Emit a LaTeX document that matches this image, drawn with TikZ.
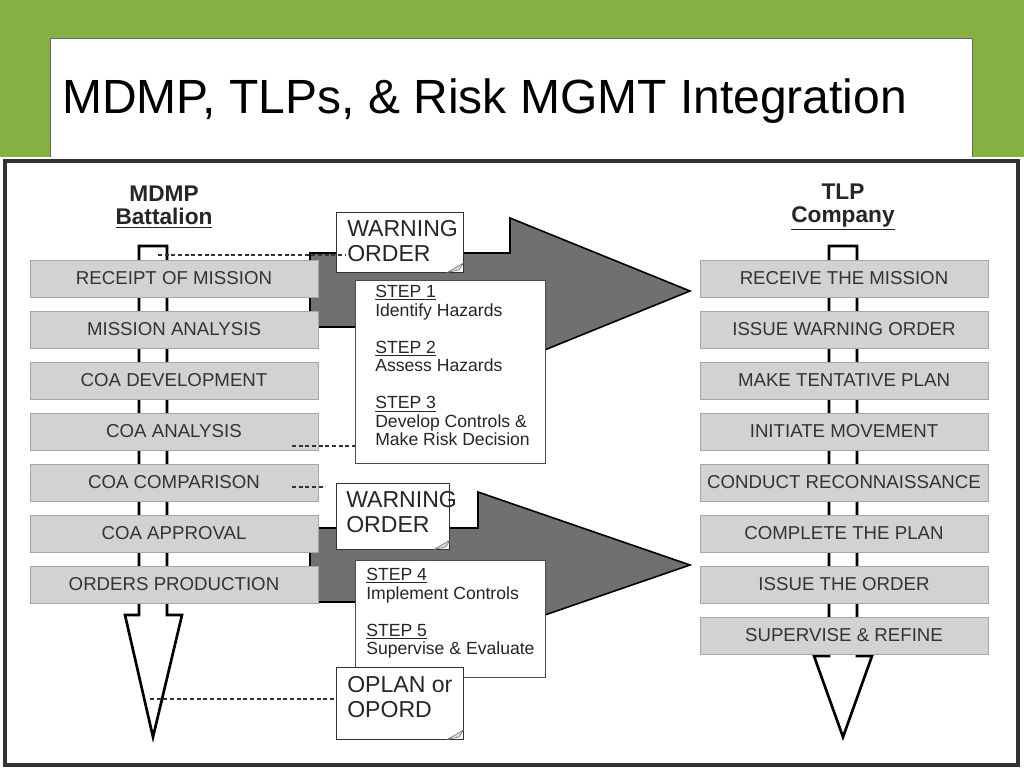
\documentclass[tikz,border=0pt]{standalone}
\usepackage{fontspec}
\setmainfont{Liberation Sans}
\definecolor{bggreen}{RGB}{134,176,66}
\begin{document}
\begin{tikzpicture}[x=0.75pt,y=-0.75pt,
  phase/.style={draw=gray!70,fill=gray!35,minimum width=216pt,minimum height=27.5pt,inner sep=0pt,font=\fontsize{14}{16}\selectfont,text=black!80},
  note/.style={draw=black!80,fill=white,inner sep=0pt,anchor=north west},
  notetext/.style={anchor=north west,align=left,font=\fontsize{17.3}{19}\selectfont,inner sep=0pt,text=black!85},
  stepbox/.style={draw=black!70,fill=white,inner sep=0pt,anchor=north west},
  steptext/.style={anchor=north west,align=left,font=\fontsize{13.2}{13.9}\selectfont,text=black!85,inner sep=0pt},
  head/.style={font=\bfseries\fontsize{17}{17.3}\selectfont,align=center,text=black!85},
  conn/.style={densely dashed,line width=1.2pt,black!80},
  big/.style={draw=black,line width=1.2pt,fill=gray!50!black!75},
  spine/.style={draw=black,line width=2pt,fill=white}]
\useasboundingbox (0,0) rectangle (1024,768);
\fill[bggreen] (0,0) rectangle (1024,157);
\fill[white] (0,157) rectangle (1024,768);
\fill[white] (50,38) rectangle (972,157);
\draw[black!60] (50,38) -- (50,157) (972,38) -- (972,157) (50,38) -- (972,38);
\node[anchor=base west,font=\fontsize{36}{40}\selectfont,inner sep=0pt] (title) at (62,113) {MDMP, TLPs, \& Risk MGMT Integration};
\draw[line width=2.5pt,black!80] (5,161) rectangle (1018,765);
% headings
\node[head] (hl) at (164,207) {MDMP\\\underline{Battalion}};
\node[head] (hr) at (843,207) {TLP\\\underline{Company}};
% spines
\draw[spine] (139,615) -- (139,246) -- (167,246) -- (167,615) -- (182,615) -- (153,737) -- (125,615) -- cycle;
\draw[spine] (829,656) -- (829,246) -- (857,246) -- (857,656) -- (872,656) -- (843,737) -- (814,656) -- cycle;
% big arrows
\draw[big] (310,253) -- (510,253) -- (510,218) -- (690,291) -- (510,364) -- (510,327) -- (310,327) -- cycle;
\draw[big] (310,528) -- (478,528) -- (478,492) -- (690,565) -- (478,638) -- (478,602) -- (310,602) -- cycle;
% boxes
\foreach \n/\t [count=\i from 0] in {l1/RECEIPT OF MISSION,l2/MISSION ANALYSIS,l3/COA DEVELOPMENT,l4/COA ANALYSIS,l5/COA COMPARISON,l6/COA APPROVAL,l7/ORDERS PRODUCTION}
  \node[phase] (\n) at (174,278.5+51*\i) {\t};
\foreach \n/\t [count=\i from 0] in {r1/RECEIVE THE MISSION,r2/ISSUE WARNING ORDER,r3/MAKE TENTATIVE PLAN,r4/INITIATE MOVEMENT,r5/CONDUCT RECONNAISSANCE,r6/COMPLETE THE PLAN,r7/ISSUE THE ORDER,r8/SUPERVISE \& REFINE}
  \node[phase] (\n) at (844,278.5+51*\i) {\t};
% step boxes
\node[stepbox,minimum width=142.5pt,minimum height=137pt] (s1) at (355,280) {};
\node[steptext] (s1t) at (375,285) {\underline{STEP 1}\\Identify Hazards\\[13.9pt]\underline{STEP 2}\\Assess Hazards\\[13.9pt]\underline{STEP 3}\\Develop Controls \&\\Make Risk Decision};
\node[stepbox,minimum width=142.5pt,minimum height=88pt] (s2) at (355,560) {};
\node[steptext] (s2t) at (366,568) {\underline{STEP 4}\\Implement Controls\\[13.9pt]\underline{STEP 5}\\Supervise \& Evaluate};
% notes
\node[note,minimum width=95pt,minimum height=45pt] (w1) at (336,212) {};
\node[notetext] (w1t) at (347,220) {WARNING\\ORDER};
\node[note,minimum width=85pt,minimum height=49.5pt] (w2) at (336,483) {};
\node[notetext] (w2t) at (346,491) {WARNING\\ORDER};
\node[note,minimum width=95pt,minimum height=54pt] (op) at (336,667) {};
\node[notetext] (opt) at (347,676) {OPLAN or\\OPORD};
\foreach \n in {w1,w2,op}
  \draw[black!60,fill=gray!30] ([xshift=-12pt]\n.south east) -- ([yshift=7pt]\n.south east) -- ([xshift=-3pt,yshift=2pt]\n.south east) -- cycle;
% dashed connectors
\coordinate (c1) at (158,255);
\coordinate (c2) at (292,446);
\coordinate (c3) at (292,487);
\coordinate (c4) at (150,699);
\draw[conn] (c1) -- (w1.west |- c1) -- ++(10,0);
\draw[conn] (c2) -- (s1.west |- c2);
\draw[conn] (c3) -- ([xshift=-8pt]w2.west |- c3);
\draw[conn] (c4) -- (op.west |- c4);
\end{tikzpicture}
\end{document}
